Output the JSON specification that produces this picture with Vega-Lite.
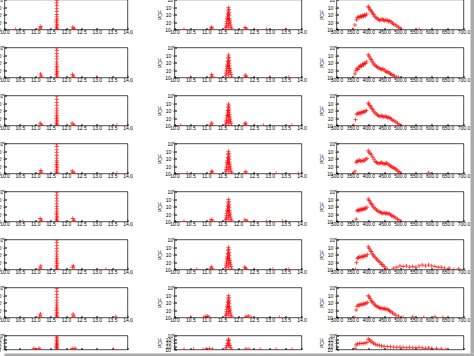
{
"$schema": "https://vega.github.io/schema/vega-lite/v6.json",
"padding": {"left": -13.5, "top": -3.5, "right": 0, "bottom": 0},
"background": "white",
"spacing": 0,
"config": {
  "font": "Liberation Sans",
  "view": {"stroke": "#000", "strokeWidth": 0.7},
  "axis": {"labelFontSize": 5, "labelColor": "#000", "tickColor": "#000", "tickSize": -2, "domain": false, "grid": false, "labelPadding": 2, "titleFontSize": 5, "titleFontWeight": "normal", "titleColor": "#000", "titlePadding": 2, "labelOverlap": false, "labelFlush": false},
  "axisY": {"minExtent": 0},
  "point": {"shape": "M-1,0H1M0,-1V1", "size": 18, "strokeWidth": 0.8, "color": "#ff0000", "filled": false, "opacity": 0.85}
},
"datasets": {
"a": [
{"r":1,"x":11.7,"y":0.8},{"r":1,"x":11.7,"y":0.35},{"r":1,"x":11.7,"y":0.15},{"r":1,"x":11.7,"y":0.06},{"r":1,"x":11.7,"y":0.025},{"r":1,"x":11.7,"y":0.01},{"r":1,"x":11.7,"y":0.005},{"r":1,"x":11.7,"y":0.0025},{"r":1,"x":11.7,"y":0.0015},{"r":1,"x":11.69,"y":0.0009},{"r":1,"x":11.71,"y":0.0005},{"r":1,"x":11.7,"y":0.0003},{"r":1,"x":11.69,"y":0.0002},{"r":1,"x":11.71,"y":0.00013},{"r":1,"x":11.7,"y":0.0001},{"r":1,"x":11.15,"y":0.00015},{"r":1,"x":11.18,"y":0.00025},{"r":1,"x":11.2,"y":0.0001},{"r":1,"x":12.22,"y":0.0002},{"r":1,"x":12.25,"y":0.00013},{"r":1,"x":12.28,"y":0.0001},{"r":1,"x":10.35,"y":0.0001},
{"r":2,"x":11.7,"y":0.9},{"r":2,"x":11.7,"y":0.4},{"r":2,"x":11.7,"y":0.16},{"r":2,"x":11.7,"y":0.07},{"r":2,"x":11.7,"y":0.03},{"r":2,"x":11.7,"y":0.012},{"r":2,"x":11.7,"y":0.006},{"r":2,"x":11.7,"y":0.003},{"r":2,"x":11.7,"y":0.0018},{"r":2,"x":11.69,"y":0.001},{"r":2,"x":11.71,"y":0.0006},{"r":2,"x":11.7,"y":0.0004},{"r":2,"x":11.69,"y":0.00025},{"r":2,"x":11.71,"y":0.00015},{"r":2,"x":11.7,"y":0.0001},{"r":2,"x":11.17,"y":0.0003},{"r":2,"x":11.19,"y":0.00015},{"r":2,"x":11.21,"y":0.0001},{"r":2,"x":12.21,"y":0.00025},{"r":2,"x":12.24,"y":0.00015},{"r":2,"x":12.26,"y":0.0001},{"r":2,"x":13.0,"y":0.0001},
{"r":3,"x":11.7,"y":0.85},{"r":3,"x":11.7,"y":0.3},{"r":3,"x":11.7,"y":0.12},{"r":3,"x":11.7,"y":0.05},{"r":3,"x":11.7,"y":0.02},{"r":3,"x":11.7,"y":0.009},{"r":3,"x":11.7,"y":0.0045},{"r":3,"x":11.7,"y":0.0022},{"r":3,"x":11.7,"y":0.0013},{"r":3,"x":11.69,"y":0.0008},{"r":3,"x":11.71,"y":0.0005},{"r":3,"x":11.7,"y":0.0003},{"r":3,"x":11.69,"y":0.0002},{"r":3,"x":11.71,"y":0.00013},{"r":3,"x":11.7,"y":0.0001},{"r":3,"x":11.16,"y":0.0002},{"r":3,"x":11.19,"y":0.00012},{"r":3,"x":11.22,"y":0.0001},{"r":3,"x":12.2,"y":0.0002},{"r":3,"x":12.24,"y":0.00012},{"r":3,"x":12.27,"y":0.0001},{"r":3,"x":13.65,"y":0.0001},
{"r":4,"x":11.7,"y":0.9},{"r":4,"x":11.7,"y":0.4},{"r":4,"x":11.7,"y":0.14},{"r":4,"x":11.7,"y":0.06},{"r":4,"x":11.7,"y":0.025},{"r":4,"x":11.7,"y":0.011},{"r":4,"x":11.7,"y":0.005},{"r":4,"x":11.7,"y":0.0028},{"r":4,"x":11.7,"y":0.0016},{"r":4,"x":11.69,"y":0.001},{"r":4,"x":11.71,"y":0.0006},{"r":4,"x":11.7,"y":0.00035},{"r":4,"x":11.69,"y":0.0002},{"r":4,"x":11.71,"y":0.00014},{"r":4,"x":11.7,"y":0.0001},{"r":4,"x":11.15,"y":0.0001},{"r":4,"x":11.18,"y":0.00025},{"r":4,"x":11.2,"y":0.00015},{"r":4,"x":12.2,"y":0.00022},{"r":4,"x":12.23,"y":0.00014},{"r":4,"x":12.27,"y":0.0001},{"r":4,"x":13.65,"y":0.0001},
{"r":5,"x":11.7,"y":0.8},{"r":5,"x":11.7,"y":0.33},{"r":5,"x":11.7,"y":0.13},{"r":5,"x":11.7,"y":0.055},{"r":5,"x":11.7,"y":0.022},{"r":5,"x":11.7,"y":0.01},{"r":5,"x":11.7,"y":0.005},{"r":5,"x":11.7,"y":0.0025},{"r":5,"x":11.7,"y":0.0014},{"r":5,"x":11.69,"y":0.0009},{"r":5,"x":11.71,"y":0.0005},{"r":5,"x":11.7,"y":0.0003},{"r":5,"x":11.69,"y":0.0002},{"r":5,"x":11.71,"y":0.00013},{"r":5,"x":11.7,"y":0.0001},{"r":5,"x":11.16,"y":0.00025},{"r":5,"x":11.19,"y":0.00015},{"r":5,"x":11.21,"y":0.0001},{"r":5,"x":12.22,"y":0.00025},{"r":5,"x":12.25,"y":0.00015},{"r":5,"x":12.28,"y":0.0001},{"r":5,"x":10.6,"y":0.0001},
{"r":6,"x":11.7,"y":0.85},{"r":6,"x":11.7,"y":0.38},{"r":6,"x":11.7,"y":0.15},{"r":6,"x":11.7,"y":0.065},{"r":6,"x":11.7,"y":0.028},{"r":6,"x":11.7,"y":0.012},{"r":6,"x":11.7,"y":0.006},{"r":6,"x":11.7,"y":0.003},{"r":6,"x":11.7,"y":0.0017},{"r":6,"x":11.69,"y":0.001},{"r":6,"x":11.71,"y":0.0006},{"r":6,"x":11.7,"y":0.00035},{"r":6,"x":11.69,"y":0.00022},{"r":6,"x":11.71,"y":0.00014},{"r":6,"x":11.7,"y":0.0001},{"r":6,"x":11.15,"y":0.00015},{"r":6,"x":11.18,"y":0.0003},{"r":6,"x":11.2,"y":0.0001},{"r":6,"x":12.21,"y":0.0002},{"r":6,"x":12.24,"y":0.0003},{"r":6,"x":12.27,"y":0.0001},{"r":6,"x":13.3,"y":0.0001},
{"r":7,"x":11.7,"y":0.75},{"r":7,"x":11.7,"y":0.3},{"r":7,"x":11.7,"y":0.12},{"r":7,"x":11.7,"y":0.05},{"r":7,"x":11.7,"y":0.02},{"r":7,"x":11.7,"y":0.009},{"r":7,"x":11.7,"y":0.0045},{"r":7,"x":11.7,"y":0.0024},{"r":7,"x":11.7,"y":0.0014},{"r":7,"x":11.69,"y":0.0009},{"r":7,"x":11.71,"y":0.0005},{"r":7,"x":11.7,"y":0.0003},{"r":7,"x":11.69,"y":0.0002},{"r":7,"x":11.71,"y":0.00013},{"r":7,"x":11.7,"y":0.0001},{"r":7,"x":11.14,"y":0.00015},{"r":7,"x":11.17,"y":0.0003},{"r":7,"x":11.2,"y":0.0001},{"r":7,"x":12.2,"y":0.0001},{"r":7,"x":12.23,"y":0.00028},{"r":7,"x":12.26,"y":0.00015},{"r":7,"x":13.62,"y":0.00012},
{"r":8,"x":11.7,"y":0.8},{"r":8,"x":11.7,"y":0.3},{"r":8,"x":11.7,"y":0.1},{"r":8,"x":11.7,"y":0.04},{"r":8,"x":11.7,"y":0.015},{"r":8,"x":11.7,"y":0.006},{"r":8,"x":11.7,"y":0.003},{"r":8,"x":11.7,"y":0.0015},{"r":8,"x":11.7,"y":0.0008},{"r":8,"x":11.69,"y":0.0004},{"r":8,"x":11.71,"y":0.0002},{"r":8,"x":11.7,"y":0.0001},{"r":8,"x":10.95,"y":0.0002},{"r":8,"x":11.0,"y":0.0001},{"r":8,"x":11.12,"y":0.0002},{"r":8,"x":11.15,"y":0.0001},{"r":8,"x":12.2,"y":0.0002},{"r":8,"x":12.25,"y":0.0001},{"r":8,"x":12.3,"y":0.0002},{"r":8,"x":13.55,"y":0.0001}
],
"b": [
{"r":1,"x":11.6,"y":0.0001},{"r":1,"x":11.62,"y":0.00018},{"r":1,"x":11.63,"y":0.0003},{"r":1,"x":11.64,"y":0.0006},{"r":1,"x":11.65,"y":0.0012},{"r":1,"x":11.66,"y":0.0025},{"r":1,"x":11.67,"y":0.005},{"r":1,"x":11.68,"y":0.012},{"r":1,"x":11.69,"y":0.03},{"r":1,"x":11.7,"y":0.08},{"r":1,"x":11.71,"y":0.045},{"r":1,"x":11.72,"y":0.018},{"r":1,"x":11.72,"y":0.007},{"r":1,"x":11.73,"y":0.003},{"r":1,"x":11.74,"y":0.0015},{"r":1,"x":11.75,"y":0.0008},{"r":1,"x":11.76,"y":0.0004},{"r":1,"x":11.78,"y":0.0002},{"r":1,"x":11.8,"y":0.00012},{"r":1,"x":11.68,"y":0.003},{"r":1,"x":11.7,"y":0.01},{"r":1,"x":11.7,"y":0.002},{"r":1,"x":11.71,"y":0.0006},{"r":1,"x":11.69,"y":0.0003},{"r":1,"x":11.7,"y":0.0001},{"r":1,"x":11.13,"y":0.0001},{"r":1,"x":11.16,"y":0.0002},{"r":1,"x":11.18,"y":0.00015},{"r":1,"x":12.22,"y":0.00018},{"r":1,"x":12.25,"y":0.00012},{"r":1,"x":12.28,"y":0.0001},{"r":1,"x":10.3,"y":0.0001},{"r":1,"x":12.9,"y":0.0001},{"r":1,"x":13.5,"y":0.0001},
{"r":2,"x":11.61,"y":0.0001},{"r":2,"x":11.62,"y":0.0002},{"r":2,"x":11.63,"y":0.0004},{"r":2,"x":11.64,"y":0.0008},{"r":2,"x":11.65,"y":0.0015},{"r":2,"x":11.66,"y":0.003},{"r":2,"x":11.67,"y":0.006},{"r":2,"x":11.68,"y":0.015},{"r":2,"x":11.69,"y":0.04},{"r":2,"x":11.7,"y":0.1},{"r":2,"x":11.71,"y":0.05},{"r":2,"x":11.72,"y":0.02},{"r":2,"x":11.72,"y":0.008},{"r":2,"x":11.73,"y":0.0035},{"r":2,"x":11.74,"y":0.0016},{"r":2,"x":11.75,"y":0.0009},{"r":2,"x":11.76,"y":0.0005},{"r":2,"x":11.78,"y":0.00025},{"r":2,"x":11.8,"y":0.00012},{"r":2,"x":11.68,"y":0.004},{"r":2,"x":11.7,"y":0.012},{"r":2,"x":11.7,"y":0.0025},{"r":2,"x":11.71,"y":0.0007},{"r":2,"x":11.69,"y":0.0003},{"r":2,"x":11.7,"y":0.0001},{"r":2,"x":11.15,"y":0.0001},{"r":2,"x":11.17,"y":0.00025},{"r":2,"x":11.19,"y":0.00014},{"r":2,"x":12.23,"y":0.0002},{"r":2,"x":12.25,"y":0.00013},{"r":2,"x":12.27,"y":0.0001},{"r":2,"x":10.5,"y":0.0001},{"r":2,"x":13.0,"y":0.0001},{"r":2,"x":13.6,"y":0.0001},
{"r":3,"x":11.6,"y":0.0001},{"r":3,"x":11.62,"y":0.00016},{"r":3,"x":11.63,"y":0.0003},{"r":3,"x":11.64,"y":0.0005},{"r":3,"x":11.65,"y":0.001},{"r":3,"x":11.66,"y":0.002},{"r":3,"x":11.67,"y":0.0045},{"r":3,"x":11.68,"y":0.01},{"r":3,"x":11.69,"y":0.028},{"r":3,"x":11.7,"y":0.07},{"r":3,"x":11.71,"y":0.04},{"r":3,"x":11.72,"y":0.016},{"r":3,"x":11.72,"y":0.006},{"r":3,"x":11.73,"y":0.0028},{"r":3,"x":11.74,"y":0.0013},{"r":3,"x":11.75,"y":0.0007},{"r":3,"x":11.76,"y":0.00035},{"r":3,"x":11.78,"y":0.0002},{"r":3,"x":11.8,"y":0.0001},{"r":3,"x":11.68,"y":0.0025},{"r":3,"x":11.7,"y":0.009},{"r":3,"x":11.7,"y":0.0018},{"r":3,"x":11.71,"y":0.0005},{"r":3,"x":11.69,"y":0.00025},{"r":3,"x":11.7,"y":0.0001},{"r":3,"x":11.14,"y":0.00012},{"r":3,"x":11.17,"y":0.00022},{"r":3,"x":11.2,"y":0.0001},{"r":3,"x":12.21,"y":0.00015},{"r":3,"x":12.24,"y":0.0002},{"r":3,"x":12.27,"y":0.0001},{"r":3,"x":10.2,"y":0.0001},{"r":3,"x":12.8,"y":0.0001},{"r":3,"x":13.7,"y":0.0001},
{"r":4,"x":11.6,"y":0.0001},{"r":4,"x":11.62,"y":0.0002},{"r":4,"x":11.63,"y":0.00035},{"r":4,"x":11.64,"y":0.0007},{"r":4,"x":11.65,"y":0.0014},{"r":4,"x":11.66,"y":0.0028},{"r":4,"x":11.67,"y":0.0055},{"r":4,"x":11.68,"y":0.013},{"r":4,"x":11.69,"y":0.035},{"r":4,"x":11.7,"y":0.09},{"r":4,"x":11.71,"y":0.05},{"r":4,"x":11.72,"y":0.02},{"r":4,"x":11.72,"y":0.0075},{"r":4,"x":11.73,"y":0.0032},{"r":4,"x":11.74,"y":0.0015},{"r":4,"x":11.75,"y":0.0008},{"r":4,"x":11.76,"y":0.0004},{"r":4,"x":11.78,"y":0.0002},{"r":4,"x":11.8,"y":0.00012},{"r":4,"x":11.68,"y":0.0035},{"r":4,"x":11.7,"y":0.011},{"r":4,"x":11.7,"y":0.0022},{"r":4,"x":11.71,"y":0.0006},{"r":4,"x":11.69,"y":0.0003},{"r":4,"x":11.7,"y":0.0001},{"r":4,"x":11.15,"y":0.0001},{"r":4,"x":11.17,"y":0.0002},{"r":4,"x":11.19,"y":0.00015},{"r":4,"x":12.2,"y":0.0001},{"r":4,"x":12.24,"y":0.00017},{"r":4,"x":12.28,"y":0.0001},{"r":4,"x":10.4,"y":0.0001},{"r":4,"x":13.2,"y":0.0001},{"r":4,"x":13.9,"y":0.0001},
{"r":5,"x":11.6,"y":0.0001},{"r":5,"x":11.62,"y":0.00018},{"r":5,"x":11.63,"y":0.0003},{"r":5,"x":11.64,"y":0.0006},{"r":5,"x":11.65,"y":0.0012},{"r":5,"x":11.66,"y":0.0025},{"r":5,"x":11.67,"y":0.005},{"r":5,"x":11.68,"y":0.012},{"r":5,"x":11.69,"y":0.03},{"r":5,"x":11.7,"y":0.085},{"r":5,"x":11.71,"y":0.045},{"r":5,"x":11.72,"y":0.017},{"r":5,"x":11.72,"y":0.007},{"r":5,"x":11.73,"y":0.003},{"r":5,"x":11.74,"y":0.0014},{"r":5,"x":11.75,"y":0.0008},{"r":5,"x":11.76,"y":0.0004},{"r":5,"x":11.78,"y":0.0002},{"r":5,"x":11.8,"y":0.00012},{"r":5,"x":11.68,"y":0.003},{"r":5,"x":11.7,"y":0.01},{"r":5,"x":11.7,"y":0.002},{"r":5,"x":11.71,"y":0.0006},{"r":5,"x":11.69,"y":0.0003},{"r":5,"x":11.7,"y":0.0001},{"r":5,"x":11.12,"y":0.0001},{"r":5,"x":11.16,"y":0.00018},{"r":5,"x":11.2,"y":0.00012},{"r":5,"x":12.22,"y":0.00016},{"r":5,"x":12.26,"y":0.00011},{"r":5,"x":12.3,"y":0.0001},{"r":5,"x":10.3,"y":0.0001},{"r":5,"x":12.9,"y":0.0001},{"r":5,"x":13.4,"y":0.0001},
{"r":6,"x":11.6,"y":0.0001},{"r":6,"x":11.62,"y":0.0002},{"r":6,"x":11.63,"y":0.0004},{"r":6,"x":11.64,"y":0.0007},{"r":6,"x":11.65,"y":0.0013},{"r":6,"x":11.66,"y":0.0027},{"r":6,"x":11.67,"y":0.0055},{"r":6,"x":11.68,"y":0.014},{"r":6,"x":11.69,"y":0.035},{"r":6,"x":11.7,"y":0.09},{"r":6,"x":11.71,"y":0.05},{"r":6,"x":11.72,"y":0.019},{"r":6,"x":11.72,"y":0.0075},{"r":6,"x":11.73,"y":0.0033},{"r":6,"x":11.74,"y":0.0016},{"r":6,"x":11.75,"y":0.0009},{"r":6,"x":11.76,"y":0.0005},{"r":6,"x":11.78,"y":0.00025},{"r":6,"x":11.8,"y":0.00012},{"r":6,"x":11.68,"y":0.0035},{"r":6,"x":11.7,"y":0.011},{"r":6,"x":11.7,"y":0.0022},{"r":6,"x":11.71,"y":0.0007},{"r":6,"x":11.69,"y":0.0003},{"r":6,"x":11.7,"y":0.0001},{"r":6,"x":11.13,"y":0.00012},{"r":6,"x":11.16,"y":0.00022},{"r":6,"x":11.19,"y":0.00013},{"r":6,"x":12.21,"y":0.0002},{"r":6,"x":12.24,"y":0.00014},{"r":6,"x":12.27,"y":0.0001},{"r":6,"x":10.7,"y":0.0001},{"r":6,"x":13.1,"y":0.0001},{"r":6,"x":13.6,"y":0.0001},
{"r":7,"x":11.6,"y":0.0001},{"r":7,"x":11.62,"y":0.00018},{"r":7,"x":11.63,"y":0.0003},{"r":7,"x":11.64,"y":0.0006},{"r":7,"x":11.65,"y":0.0012},{"r":7,"x":11.66,"y":0.0025},{"r":7,"x":11.67,"y":0.005},{"r":7,"x":11.68,"y":0.012},{"r":7,"x":11.69,"y":0.03},{"r":7,"x":11.7,"y":0.08},{"r":7,"x":11.71,"y":0.045},{"r":7,"x":11.72,"y":0.017},{"r":7,"x":11.72,"y":0.007},{"r":7,"x":11.73,"y":0.003},{"r":7,"x":11.74,"y":0.0014},{"r":7,"x":11.75,"y":0.0008},{"r":7,"x":11.76,"y":0.0004},{"r":7,"x":11.78,"y":0.0002},{"r":7,"x":11.8,"y":0.00012},{"r":7,"x":11.68,"y":0.003},{"r":7,"x":11.7,"y":0.01},{"r":7,"x":11.7,"y":0.002},{"r":7,"x":11.71,"y":0.0006},{"r":7,"x":11.69,"y":0.0003},{"r":7,"x":11.7,"y":0.0001},{"r":7,"x":10.92,"y":0.0001},{"r":7,"x":10.97,"y":0.00013},{"r":7,"x":11.03,"y":0.00015},{"r":7,"x":11.08,"y":0.00012},{"r":7,"x":12.22,"y":0.0001},{"r":7,"x":12.28,"y":0.00014},{"r":7,"x":12.34,"y":0.00016},{"r":7,"x":12.42,"y":0.0001},{"r":7,"x":10.5,"y":0.0001},{"r":7,"x":13.3,"y":0.0001},
{"r":8,"x":11.6,"y":0.0001},{"r":8,"x":11.63,"y":0.0003},{"r":8,"x":11.65,"y":0.0012},{"r":8,"x":11.67,"y":0.005},{"r":8,"x":11.69,"y":0.03},{"r":8,"x":11.7,"y":0.09},{"r":8,"x":11.71,"y":0.04},{"r":8,"x":11.72,"y":0.007},{"r":8,"x":11.74,"y":0.0015},{"r":8,"x":11.76,"y":0.0004},{"r":8,"x":11.8,"y":0.00012},{"r":8,"x":11.7,"y":0.002},{"r":8,"x":10.9,"y":0.0001},{"r":8,"x":11.0,"y":0.00015},{"r":8,"x":11.1,"y":0.00018},{"r":8,"x":11.2,"y":0.00012},{"r":8,"x":12.25,"y":0.00015},{"r":8,"x":12.35,"y":0.00012},{"r":8,"x":10.3,"y":0.0001},{"r":8,"x":10.6,"y":0.0001},{"r":8,"x":12.7,"y":0.0001},{"r":8,"x":13.2,"y":0.0001},{"r":8,"x":13.7,"y":0.0001}
],
"c": [
{"r":1,"x":352,"y":0.0001},{"r":1,"x":358,"y":0.0004},{"r":1,"x":363,"y":0.002},{"r":1,"x":366,"y":0.004},{"r":1,"x":370,"y":0.005},{"r":1,"x":373,"y":0.004},{"r":1,"x":376,"y":0.006},{"r":1,"x":379,"y":0.005},{"r":1,"x":382,"y":0.007},{"r":1,"x":385,"y":0.006},{"r":1,"x":388,"y":0.009},{"r":1,"x":391,"y":0.007},{"r":1,"x":395,"y":0.011},{"r":1,"x":400,"y":0.12},{"r":1,"x":402,"y":0.08},{"r":1,"x":405,"y":0.05},{"r":1,"x":408,"y":0.035},{"r":1,"x":411,"y":0.022},{"r":1,"x":414,"y":0.015},{"r":1,"x":417,"y":0.01},{"r":1,"x":420,"y":0.006},{"r":1,"x":424,"y":0.004},{"r":1,"x":428,"y":0.003},{"r":1,"x":432,"y":0.0022},{"r":1,"x":436,"y":0.0016},{"r":1,"x":440,"y":0.002},{"r":1,"x":444,"y":0.0025},{"r":1,"x":448,"y":0.0018},{"r":1,"x":452,"y":0.0014},{"r":1,"x":456,"y":0.002},{"r":1,"x":460,"y":0.0016},{"r":1,"x":464,"y":0.0012},{"r":1,"x":468,"y":0.0015},{"r":1,"x":472,"y":0.001},{"r":1,"x":476,"y":0.0007},{"r":1,"x":480,"y":0.0005},{"r":1,"x":485,"y":0.0004},{"r":1,"x":490,"y":0.0003},{"r":1,"x":495,"y":0.0002},{"r":1,"x":500,"y":0.00015},{"r":1,"x":505,"y":0.0001},{"r":1,"x":560,"y":0.0001},
{"r":2,"x":358,"y":0.0003},{"r":2,"x":361,"y":0.0008},{"r":2,"x":364,"y":0.0015},{"r":2,"x":367,"y":0.0012},{"r":2,"x":370,"y":0.002},{"r":2,"x":373,"y":0.003},{"r":2,"x":376,"y":0.004},{"r":2,"x":379,"y":0.003},{"r":2,"x":382,"y":0.006},{"r":2,"x":385,"y":0.005},{"r":2,"x":388,"y":0.008},{"r":2,"x":391,"y":0.007},{"r":2,"x":395,"y":0.012},{"r":2,"x":400,"y":0.11},{"r":2,"x":403,"y":0.07},{"r":2,"x":406,"y":0.04},{"r":2,"x":409,"y":0.025},{"r":2,"x":412,"y":0.015},{"r":2,"x":415,"y":0.009},{"r":2,"x":418,"y":0.006},{"r":2,"x":422,"y":0.004},{"r":2,"x":426,"y":0.003},{"r":2,"x":430,"y":0.0022},{"r":2,"x":434,"y":0.0018},{"r":2,"x":438,"y":0.0014},{"r":2,"x":442,"y":0.0012},{"r":2,"x":446,"y":0.0015},{"r":2,"x":450,"y":0.001},{"r":2,"x":454,"y":0.0007},{"r":2,"x":458,"y":0.0005},{"r":2,"x":462,"y":0.0006},{"r":2,"x":466,"y":0.0004},{"r":2,"x":470,"y":0.0003},{"r":2,"x":474,"y":0.00025},{"r":2,"x":478,"y":0.0002},{"r":2,"x":482,"y":0.00015},{"r":2,"x":488,"y":0.00012},{"r":2,"x":495,"y":0.0001},
{"r":3,"x":355,"y":0.0001},{"r":3,"x":360,"y":0.0006},{"r":3,"x":364,"y":0.003},{"r":3,"x":367,"y":0.004},{"r":3,"x":371,"y":0.005},{"r":3,"x":374,"y":0.0035},{"r":3,"x":377,"y":0.006},{"r":3,"x":380,"y":0.005},{"r":3,"x":384,"y":0.007},{"r":3,"x":387,"y":0.006},{"r":3,"x":390,"y":0.008},{"r":3,"x":394,"y":0.01},{"r":3,"x":400,"y":0.1},{"r":3,"x":402,"y":0.07},{"r":3,"x":405,"y":0.045},{"r":3,"x":408,"y":0.03},{"r":3,"x":411,"y":0.02},{"r":3,"x":414,"y":0.013},{"r":3,"x":417,"y":0.008},{"r":3,"x":421,"y":0.005},{"r":3,"x":425,"y":0.0035},{"r":3,"x":429,"y":0.0025},{"r":3,"x":433,"y":0.002},{"r":3,"x":437,"y":0.0016},{"r":3,"x":441,"y":0.002},{"r":3,"x":445,"y":0.0017},{"r":3,"x":449,"y":0.0013},{"r":3,"x":453,"y":0.0018},{"r":3,"x":457,"y":0.0014},{"r":3,"x":461,"y":0.0011},{"r":3,"x":465,"y":0.0013},{"r":3,"x":469,"y":0.0009},{"r":3,"x":473,"y":0.0007},{"r":3,"x":477,"y":0.0005},{"r":3,"x":482,"y":0.0004},{"r":3,"x":487,"y":0.0003},{"r":3,"x":492,"y":0.0002},{"r":3,"x":497,"y":0.00014},{"r":3,"x":502,"y":0.0001},
{"r":4,"x":355,"y":0.0001},{"r":4,"x":358,"y":0.0002},{"r":4,"x":362,"y":0.003},{"r":4,"x":365,"y":0.005},{"r":4,"x":368,"y":0.004},{"r":4,"x":372,"y":0.006},{"r":4,"x":376,"y":0.005},{"r":4,"x":380,"y":0.004},{"r":4,"x":384,"y":0.006},{"r":4,"x":388,"y":0.005},{"r":4,"x":392,"y":0.008},{"r":4,"x":396,"y":0.01},{"r":4,"x":400,"y":0.11},{"r":4,"x":403,"y":0.07},{"r":4,"x":406,"y":0.045},{"r":4,"x":410,"y":0.03},{"r":4,"x":414,"y":0.015},{"r":4,"x":418,"y":0.008},{"r":4,"x":422,"y":0.004},{"r":4,"x":426,"y":0.003},{"r":4,"x":430,"y":0.0025},{"r":4,"x":434,"y":0.002},{"r":4,"x":438,"y":0.0025},{"r":4,"x":442,"y":0.003},{"r":4,"x":446,"y":0.0022},{"r":4,"x":450,"y":0.0018},{"r":4,"x":454,"y":0.002},{"r":4,"x":458,"y":0.0025},{"r":4,"x":462,"y":0.0018},{"r":4,"x":466,"y":0.0013},{"r":4,"x":470,"y":0.001},{"r":4,"x":474,"y":0.0008},{"r":4,"x":478,"y":0.0006},{"r":4,"x":482,"y":0.0005},{"r":4,"x":486,"y":0.0004},{"r":4,"x":490,"y":0.0003},{"r":4,"x":494,"y":0.0002},{"r":4,"x":498,"y":0.00015},{"r":4,"x":502,"y":0.0001},{"r":4,"x":590,"y":0.00012},
{"r":5,"x":362,"y":0.0002},{"r":5,"x":365,"y":0.003},{"r":5,"x":368,"y":0.0025},{"r":5,"x":371,"y":0.004},{"r":5,"x":374,"y":0.003},{"r":5,"x":377,"y":0.0045},{"r":5,"x":380,"y":0.0035},{"r":5,"x":383,"y":0.005},{"r":5,"x":386,"y":0.004},{"r":5,"x":389,"y":0.006},{"r":5,"x":392,"y":0.005},{"r":5,"x":396,"y":0.008},{"r":5,"x":400,"y":0.1},{"r":5,"x":403,"y":0.065},{"r":5,"x":406,"y":0.04},{"r":5,"x":409,"y":0.025},{"r":5,"x":412,"y":0.017},{"r":5,"x":415,"y":0.011},{"r":5,"x":418,"y":0.007},{"r":5,"x":422,"y":0.005},{"r":5,"x":426,"y":0.0035},{"r":5,"x":430,"y":0.0025},{"r":5,"x":434,"y":0.002},{"r":5,"x":438,"y":0.0017},{"r":5,"x":442,"y":0.0014},{"r":5,"x":446,"y":0.0012},{"r":5,"x":450,"y":0.0015},{"r":5,"x":454,"y":0.0011},{"r":5,"x":458,"y":0.0013},{"r":5,"x":462,"y":0.001},{"r":5,"x":466,"y":0.0012},{"r":5,"x":470,"y":0.0008},{"r":5,"x":474,"y":0.0006},{"r":5,"x":478,"y":0.0005},{"r":5,"x":482,"y":0.0004},{"r":5,"x":487,"y":0.0003},{"r":5,"x":492,"y":0.0002},{"r":5,"x":497,"y":0.00015},{"r":5,"x":502,"y":0.0001},
{"r":6,"x":360,"y":0.0001},{"r":6,"x":363,"y":0.0008},{"r":6,"x":366,"y":0.003},{"r":6,"x":369,"y":0.004},{"r":6,"x":373,"y":0.005},{"r":6,"x":377,"y":0.004},{"r":6,"x":381,"y":0.006},{"r":6,"x":385,"y":0.005},{"r":6,"x":389,"y":0.007},{"r":6,"x":393,"y":0.006},{"r":6,"x":397,"y":0.01},{"r":6,"x":400,"y":0.11},{"r":6,"x":403,"y":0.07},{"r":6,"x":406,"y":0.04},{"r":6,"x":409,"y":0.025},{"r":6,"x":412,"y":0.015},{"r":6,"x":415,"y":0.009},{"r":6,"x":418,"y":0.006},{"r":6,"x":422,"y":0.004},{"r":6,"x":426,"y":0.0025},{"r":6,"x":430,"y":0.0018},{"r":6,"x":434,"y":0.0012},{"r":6,"x":438,"y":0.0008},{"r":6,"x":442,"y":0.0005},{"r":6,"x":446,"y":0.0004},{"r":6,"x":450,"y":0.00025},{"r":6,"x":455,"y":0.00015},{"r":6,"x":460,"y":0.0001},{"r":6,"x":480,"y":0.00015},{"r":6,"x":490,"y":0.0002},{"r":6,"x":500,"y":0.0003},{"r":6,"x":510,"y":0.00025},{"r":6,"x":520,"y":0.0003},{"r":6,"x":530,"y":0.0002},{"r":6,"x":540,"y":0.00025},{"r":6,"x":550,"y":0.0002},{"r":6,"x":560,"y":0.0003},{"r":6,"x":570,"y":0.0004},{"r":6,"x":580,"y":0.0003},{"r":6,"x":590,"y":0.0004},{"r":6,"x":600,"y":0.0003},{"r":6,"x":610,"y":0.00025},{"r":6,"x":620,"y":0.0002},{"r":6,"x":630,"y":0.0002},{"r":6,"x":640,"y":0.00015},{"r":6,"x":655,"y":0.00015},{"r":6,"x":670,"y":0.0001},{"r":6,"x":685,"y":0.00012},
{"r":7,"x":358,"y":0.0001},{"r":7,"x":362,"y":0.001},{"r":7,"x":365,"y":0.003},{"r":7,"x":369,"y":0.005},{"r":7,"x":373,"y":0.004},{"r":7,"x":377,"y":0.006},{"r":7,"x":381,"y":0.005},{"r":7,"x":385,"y":0.007},{"r":7,"x":389,"y":0.006},{"r":7,"x":393,"y":0.008},{"r":7,"x":397,"y":0.01},{"r":7,"x":400,"y":0.08},{"r":7,"x":403,"y":0.055},{"r":7,"x":406,"y":0.035},{"r":7,"x":409,"y":0.02},{"r":7,"x":412,"y":0.013},{"r":7,"x":415,"y":0.009},{"r":7,"x":419,"y":0.006},{"r":7,"x":423,"y":0.004},{"r":7,"x":427,"y":0.003},{"r":7,"x":431,"y":0.0025},{"r":7,"x":435,"y":0.002},{"r":7,"x":439,"y":0.0016},{"r":7,"x":443,"y":0.0018},{"r":7,"x":447,"y":0.0014},{"r":7,"x":451,"y":0.0016},{"r":7,"x":455,"y":0.0012},{"r":7,"x":459,"y":0.0014},{"r":7,"x":463,"y":0.001},{"r":7,"x":467,"y":0.0008},{"r":7,"x":471,"y":0.0006},{"r":7,"x":476,"y":0.0004},{"r":7,"x":481,"y":0.0003},{"r":7,"x":487,"y":0.0002},{"r":7,"x":495,"y":0.00015},{"r":7,"x":510,"y":0.0001},{"r":7,"x":540,"y":0.00012},{"r":7,"x":575,"y":0.0001},{"r":7,"x":610,"y":0.00012},{"r":7,"x":635,"y":0.0001},
{"r":8,"x":358,"y":0.0002},{"r":8,"x":362,"y":0.002},{"r":8,"x":366,"y":0.004},{"r":8,"x":372,"y":0.005},{"r":8,"x":378,"y":0.006},{"r":8,"x":384,"y":0.005},{"r":8,"x":390,"y":0.007},{"r":8,"x":396,"y":0.01},{"r":8,"x":400,"y":0.1},{"r":8,"x":404,"y":0.05},{"r":8,"x":408,"y":0.025},{"r":8,"x":412,"y":0.012},{"r":8,"x":417,"y":0.006},{"r":8,"x":422,"y":0.003},{"r":8,"x":428,"y":0.002},{"r":8,"x":435,"y":0.0015},{"r":8,"x":442,"y":0.001},{"r":8,"x":450,"y":0.0008},{"r":8,"x":460,"y":0.0007},{"r":8,"x":470,"y":0.0006},{"r":8,"x":480,"y":0.0005},{"r":8,"x":490,"y":0.0004},{"r":8,"x":500,"y":0.0005},{"r":8,"x":510,"y":0.0004},{"r":8,"x":520,"y":0.0003},{"r":8,"x":530,"y":0.0004},{"r":8,"x":540,"y":0.0003},{"r":8,"x":550,"y":0.0003},{"r":8,"x":560,"y":0.0004},{"r":8,"x":570,"y":0.0003},{"r":8,"x":580,"y":0.0002},{"r":8,"x":590,"y":0.0003},{"r":8,"x":600,"y":0.0002},{"r":8,"x":615,"y":0.0002},{"r":8,"x":630,"y":0.00015},{"r":8,"x":645,"y":0.0001}
]
},
"vconcat": [
{"hconcat": [
{"hconcat": [
{"vconcat": [
{"width":123,"height":30,"data":{"name":"a"},"transform":[{"filter":"datum.r==1"}],"resolve":{"scale":{"y":"independent"}},"layer":[{"mark":{"type":"point","clip":true},"encoding":{"x":{"field":"x","type":"quantitative","scale":{"domain":[10,14],"nice":false,"zero":false},"axis":{"values":[10,10.5,11,11.5,12,12.5,13,13.5,14],"format":".1f","title":null}},"y":{"field":"y","type":"quantitative","scale":{"type":"log","domain":[0.0001,1],"nice":false},"axis":{"title":"PDF","values":[1,0.1,0.01,0.001,0.0001],"labelExpr":"datum.value>0.5?'10⁰':datum.value>0.05?'10⁻¹':datum.value>0.005?'10⁻²':datum.value>0.0005?'10⁻³':'10⁻⁴'"}}}},{"mark":{"type":"point","opacity":0},"encoding":{"x":{"field":"x","type":"quantitative","scale":{"domain":[10,14],"nice":false,"zero":false},"axis":{"values":[10,10.5,11,11.5,12,12.5,13,13.5,14],"format":".1f","title":null}},"y":{"field":"y","type":"quantitative","scale":{"type":"log","domain":[0.0001,1],"nice":false},"axis":{"orient":"right","labels":false,"ticks":false,"domain":false,"title":null,"minExtent":17,"maxExtent":17}}}}]},
{"width":123,"height":30,"data":{"name":"a"},"transform":[{"filter":"datum.r==2"}],"resolve":{"scale":{"y":"independent"}},"layer":[{"mark":{"type":"point","clip":true},"encoding":{"x":{"field":"x","type":"quantitative","scale":{"domain":[10,14],"nice":false,"zero":false},"axis":{"values":[10,10.5,11,11.5,12,12.5,13,13.5,14],"format":".1f","title":null}},"y":{"field":"y","type":"quantitative","scale":{"type":"log","domain":[0.0001,1],"nice":false},"axis":{"title":"PDF","values":[1,0.1,0.01,0.001,0.0001],"labelExpr":"datum.value>0.5?'10⁰':datum.value>0.05?'10⁻¹':datum.value>0.005?'10⁻²':datum.value>0.0005?'10⁻³':'10⁻⁴'"}}}},{"mark":{"type":"point","opacity":0},"encoding":{"x":{"field":"x","type":"quantitative","scale":{"domain":[10,14],"nice":false,"zero":false},"axis":{"values":[10,10.5,11,11.5,12,12.5,13,13.5,14],"format":".1f","title":null}},"y":{"field":"y","type":"quantitative","scale":{"type":"log","domain":[0.0001,1],"nice":false},"axis":{"orient":"right","labels":false,"ticks":false,"domain":false,"title":null,"minExtent":17,"maxExtent":17}}}}]},
{"width":123,"height":30,"data":{"name":"a"},"transform":[{"filter":"datum.r==3"}],"resolve":{"scale":{"y":"independent"}},"layer":[{"mark":{"type":"point","clip":true},"encoding":{"x":{"field":"x","type":"quantitative","scale":{"domain":[10,14],"nice":false,"zero":false},"axis":{"values":[10,10.5,11,11.5,12,12.5,13,13.5,14],"format":".1f","title":null}},"y":{"field":"y","type":"quantitative","scale":{"type":"log","domain":[0.0001,1],"nice":false},"axis":{"title":"PDF","values":[1,0.1,0.01,0.001,0.0001],"labelExpr":"datum.value>0.5?'10⁰':datum.value>0.05?'10⁻¹':datum.value>0.005?'10⁻²':datum.value>0.0005?'10⁻³':'10⁻⁴'"}}}},{"mark":{"type":"point","opacity":0},"encoding":{"x":{"field":"x","type":"quantitative","scale":{"domain":[10,14],"nice":false,"zero":false},"axis":{"values":[10,10.5,11,11.5,12,12.5,13,13.5,14],"format":".1f","title":null}},"y":{"field":"y","type":"quantitative","scale":{"type":"log","domain":[0.0001,1],"nice":false},"axis":{"orient":"right","labels":false,"ticks":false,"domain":false,"title":null,"minExtent":17,"maxExtent":17}}}}]},
{"width":123,"height":30,"data":{"name":"a"},"transform":[{"filter":"datum.r==4"}],"resolve":{"scale":{"y":"independent"}},"layer":[{"mark":{"type":"point","clip":true},"encoding":{"x":{"field":"x","type":"quantitative","scale":{"domain":[10,14],"nice":false,"zero":false},"axis":{"values":[10,10.5,11,11.5,12,12.5,13,13.5,14],"format":".1f","title":null}},"y":{"field":"y","type":"quantitative","scale":{"type":"log","domain":[0.0001,1],"nice":false},"axis":{"title":"PDF","values":[1,0.1,0.01,0.001,0.0001],"labelExpr":"datum.value>0.5?'10⁰':datum.value>0.05?'10⁻¹':datum.value>0.005?'10⁻²':datum.value>0.0005?'10⁻³':'10⁻⁴'"}}}},{"mark":{"type":"point","opacity":0},"encoding":{"x":{"field":"x","type":"quantitative","scale":{"domain":[10,14],"nice":false,"zero":false},"axis":{"values":[10,10.5,11,11.5,12,12.5,13,13.5,14],"format":".1f","title":null}},"y":{"field":"y","type":"quantitative","scale":{"type":"log","domain":[0.0001,1],"nice":false},"axis":{"orient":"right","labels":false,"ticks":false,"domain":false,"title":null,"minExtent":17,"maxExtent":17}}}}]},
{"width":123,"height":30,"data":{"name":"a"},"transform":[{"filter":"datum.r==5"}],"resolve":{"scale":{"y":"independent"}},"layer":[{"mark":{"type":"point","clip":true},"encoding":{"x":{"field":"x","type":"quantitative","scale":{"domain":[10,14],"nice":false,"zero":false},"axis":{"values":[10,10.5,11,11.5,12,12.5,13,13.5,14],"format":".1f","title":null}},"y":{"field":"y","type":"quantitative","scale":{"type":"log","domain":[0.0001,1],"nice":false},"axis":{"title":"PDF","values":[1,0.1,0.01,0.001,0.0001],"labelExpr":"datum.value>0.5?'10⁰':datum.value>0.05?'10⁻¹':datum.value>0.005?'10⁻²':datum.value>0.0005?'10⁻³':'10⁻⁴'"}}}},{"mark":{"type":"point","opacity":0},"encoding":{"x":{"field":"x","type":"quantitative","scale":{"domain":[10,14],"nice":false,"zero":false},"axis":{"values":[10,10.5,11,11.5,12,12.5,13,13.5,14],"format":".1f","title":null}},"y":{"field":"y","type":"quantitative","scale":{"type":"log","domain":[0.0001,1],"nice":false},"axis":{"orient":"right","labels":false,"ticks":false,"domain":false,"title":null,"minExtent":17,"maxExtent":17}}}}]},
{"width":123,"height":30,"data":{"name":"a"},"transform":[{"filter":"datum.r==6"}],"resolve":{"scale":{"y":"independent"}},"layer":[{"mark":{"type":"point","clip":true},"encoding":{"x":{"field":"x","type":"quantitative","scale":{"domain":[10,14],"nice":false,"zero":false},"axis":{"values":[10,10.5,11,11.5,12,12.5,13,13.5,14],"format":".1f","title":null}},"y":{"field":"y","type":"quantitative","scale":{"type":"log","domain":[0.0001,1],"nice":false},"axis":{"title":"PDF","values":[1,0.1,0.01,0.001,0.0001],"labelExpr":"datum.value>0.5?'10⁰':datum.value>0.05?'10⁻¹':datum.value>0.005?'10⁻²':datum.value>0.0005?'10⁻³':'10⁻⁴'"}}}},{"mark":{"type":"point","opacity":0},"encoding":{"x":{"field":"x","type":"quantitative","scale":{"domain":[10,14],"nice":false,"zero":false},"axis":{"values":[10,10.5,11,11.5,12,12.5,13,13.5,14],"format":".1f","title":null}},"y":{"field":"y","type":"quantitative","scale":{"type":"log","domain":[0.0001,1],"nice":false},"axis":{"orient":"right","labels":false,"ticks":false,"domain":false,"title":null,"minExtent":17,"maxExtent":17}}}}]},
{"width":123,"height":30,"data":{"name":"a"},"transform":[{"filter":"datum.r==7"}],"resolve":{"scale":{"y":"independent"}},"layer":[{"mark":{"type":"point","clip":true},"encoding":{"x":{"field":"x","type":"quantitative","scale":{"domain":[10,14],"nice":false,"zero":false},"axis":{"values":[10,10.5,11,11.5,12,12.5,13,13.5,14],"format":".1f","title":null}},"y":{"field":"y","type":"quantitative","scale":{"type":"log","domain":[0.0001,1],"nice":false},"axis":{"title":"PDF","values":[1,0.1,0.01,0.001,0.0001],"labelExpr":"datum.value>0.5?'10⁰':datum.value>0.05?'10⁻¹':datum.value>0.005?'10⁻²':datum.value>0.0005?'10⁻³':'10⁻⁴'"}}}},{"mark":{"type":"point","opacity":0},"encoding":{"x":{"field":"x","type":"quantitative","scale":{"domain":[10,14],"nice":false,"zero":false},"axis":{"values":[10,10.5,11,11.5,12,12.5,13,13.5,14],"format":".1f","title":null}},"y":{"field":"y","type":"quantitative","scale":{"type":"log","domain":[0.0001,1],"nice":false},"axis":{"orient":"right","labels":false,"ticks":false,"domain":false,"title":null,"minExtent":17,"maxExtent":17}}}}]},
{"width":123,"height":14,"data":{"name":"a"},"transform":[{"filter":"datum.r==8"}],"resolve":{"scale":{"y":"independent"}},"layer":[{"mark":{"type":"point","clip":true},"encoding":{"x":{"field":"x","type":"quantitative","scale":{"domain":[10,14],"nice":false,"zero":false},"axis":{"values":[10,10.5,11,11.5,12,12.5,13,13.5,14],"labels":false,"title":null}},"y":{"field":"y","type":"quantitative","scale":{"type":"log","domain":[0.0001,1],"nice":false},"axis":{"title":"PDF","values":[1,0.1,0.01,0.001,0.0001],"labelExpr":"datum.value>0.5?'10⁰':datum.value>0.05?'10⁻¹':datum.value>0.005?'10⁻²':datum.value>0.0005?'10⁻³':'10⁻⁴'"}}}},{"mark":{"type":"point","opacity":0},"encoding":{"x":{"field":"x","type":"quantitative","scale":{"domain":[10,14],"nice":false,"zero":false},"axis":{"values":[10,10.5,11,11.5,12,12.5,13,13.5,14],"labels":false,"title":null}},"y":{"field":"y","type":"quantitative","scale":{"type":"log","domain":[0.0001,1],"nice":false},"axis":{"orient":"right","labels":false,"ticks":false,"domain":false,"title":null,"minExtent":17,"maxExtent":17}}}}]}
],"spacing":18,"bounds":"flush"},
{"vconcat": [
{"width":127,"height":30,"data":{"name":"b"},"transform":[{"filter":"datum.r==1"}],"mark":{"type":"point","clip":true},"encoding":{"x":{"field":"x","type":"quantitative","scale":{"domain":[10,14],"nice":false,"zero":false},"axis":{"values":[10,10.5,11,11.5,12,12.5,13,13.5,14],"format":".1f","title":null}},"y":{"field":"y","type":"quantitative","scale":{"type":"log","domain":[0.0001,1],"nice":false},"axis":{"title":"PDF","values":[1,0.1,0.01,0.001,0.0001],"labelExpr":"datum.value>0.5?'10⁰':datum.value>0.05?'10⁻¹':datum.value>0.005?'10⁻²':datum.value>0.0005?'10⁻³':'10⁻⁴'"}}}},
{"width":127,"height":30,"data":{"name":"b"},"transform":[{"filter":"datum.r==2"}],"mark":{"type":"point","clip":true},"encoding":{"x":{"field":"x","type":"quantitative","scale":{"domain":[10,14],"nice":false,"zero":false},"axis":{"values":[10,10.5,11,11.5,12,12.5,13,13.5,14],"format":".1f","title":null}},"y":{"field":"y","type":"quantitative","scale":{"type":"log","domain":[0.0001,1],"nice":false},"axis":{"title":"PDF","values":[1,0.1,0.01,0.001,0.0001],"labelExpr":"datum.value>0.5?'10⁰':datum.value>0.05?'10⁻¹':datum.value>0.005?'10⁻²':datum.value>0.0005?'10⁻³':'10⁻⁴'"}}}},
{"width":127,"height":30,"data":{"name":"b"},"transform":[{"filter":"datum.r==3"}],"mark":{"type":"point","clip":true},"encoding":{"x":{"field":"x","type":"quantitative","scale":{"domain":[10,14],"nice":false,"zero":false},"axis":{"values":[10,10.5,11,11.5,12,12.5,13,13.5,14],"format":".1f","title":null}},"y":{"field":"y","type":"quantitative","scale":{"type":"log","domain":[0.0001,1],"nice":false},"axis":{"title":"PDF","values":[1,0.1,0.01,0.001,0.0001],"labelExpr":"datum.value>0.5?'10⁰':datum.value>0.05?'10⁻¹':datum.value>0.005?'10⁻²':datum.value>0.0005?'10⁻³':'10⁻⁴'"}}}},
{"width":127,"height":30,"data":{"name":"b"},"transform":[{"filter":"datum.r==4"}],"mark":{"type":"point","clip":true},"encoding":{"x":{"field":"x","type":"quantitative","scale":{"domain":[10,14],"nice":false,"zero":false},"axis":{"values":[10,10.5,11,11.5,12,12.5,13,13.5,14],"format":".1f","title":null}},"y":{"field":"y","type":"quantitative","scale":{"type":"log","domain":[0.0001,1],"nice":false},"axis":{"title":"PDF","values":[1,0.1,0.01,0.001,0.0001],"labelExpr":"datum.value>0.5?'10⁰':datum.value>0.05?'10⁻¹':datum.value>0.005?'10⁻²':datum.value>0.0005?'10⁻³':'10⁻⁴'"}}}},
{"width":127,"height":30,"data":{"name":"b"},"transform":[{"filter":"datum.r==5"}],"mark":{"type":"point","clip":true},"encoding":{"x":{"field":"x","type":"quantitative","scale":{"domain":[10,14],"nice":false,"zero":false},"axis":{"values":[10,10.5,11,11.5,12,12.5,13,13.5,14],"format":".1f","title":null}},"y":{"field":"y","type":"quantitative","scale":{"type":"log","domain":[0.0001,1],"nice":false},"axis":{"title":"PDF","values":[1,0.1,0.01,0.001,0.0001],"labelExpr":"datum.value>0.5?'10⁰':datum.value>0.05?'10⁻¹':datum.value>0.005?'10⁻²':datum.value>0.0005?'10⁻³':'10⁻⁴'"}}}},
{"width":127,"height":30,"data":{"name":"b"},"transform":[{"filter":"datum.r==6"}],"mark":{"type":"point","clip":true},"encoding":{"x":{"field":"x","type":"quantitative","scale":{"domain":[10,14],"nice":false,"zero":false},"axis":{"values":[10,10.5,11,11.5,12,12.5,13,13.5,14],"format":".1f","title":null}},"y":{"field":"y","type":"quantitative","scale":{"type":"log","domain":[0.0001,1],"nice":false},"axis":{"title":"PDF","values":[1,0.1,0.01,0.001,0.0001],"labelExpr":"datum.value>0.5?'10⁰':datum.value>0.05?'10⁻¹':datum.value>0.005?'10⁻²':datum.value>0.0005?'10⁻³':'10⁻⁴'"}}}},
{"width":127,"height":30,"data":{"name":"b"},"transform":[{"filter":"datum.r==7"}],"mark":{"type":"point","clip":true},"encoding":{"x":{"field":"x","type":"quantitative","scale":{"domain":[10,14],"nice":false,"zero":false},"axis":{"values":[10,10.5,11,11.5,12,12.5,13,13.5,14],"format":".1f","title":null}},"y":{"field":"y","type":"quantitative","scale":{"type":"log","domain":[0.0001,1],"nice":false},"axis":{"title":"PDF","values":[1,0.1,0.01,0.001,0.0001],"labelExpr":"datum.value>0.5?'10⁰':datum.value>0.05?'10⁻¹':datum.value>0.005?'10⁻²':datum.value>0.0005?'10⁻³':'10⁻⁴'"}}}},
{"width":127,"height":14,"data":{"name":"b"},"transform":[{"filter":"datum.r==8"}],"mark":{"type":"point","clip":true},"encoding":{"x":{"field":"x","type":"quantitative","scale":{"domain":[10,14],"nice":false,"zero":false},"axis":{"values":[10,10.5,11,11.5,12,12.5,13,13.5,14],"labels":false,"title":null}},"y":{"field":"y","type":"quantitative","scale":{"type":"log","domain":[0.0001,1],"nice":false},"axis":{"title":"PDF","values":[1,0.1,0.01,0.001,0.0001],"labelExpr":"datum.value>0.5?'10⁰':datum.value>0.05?'10⁻¹':datum.value>0.005?'10⁻²':datum.value>0.0005?'10⁻³':'10⁻⁴'"}}}}
],"spacing":18,"bounds":"flush"},
{"vconcat": [
{"width":127,"height":30,"data":{"name":"c"},"transform":[{"filter":"datum.r==1"}],"mark":{"type":"point","clip":true},"encoding":{"x":{"field":"x","type":"quantitative","scale":{"domain":[300,700],"nice":false,"zero":false},"axis":{"values":[300,350,400,450,500,550,600,650,700],"format":".1f","title":null}},"y":{"field":"y","type":"quantitative","scale":{"type":"log","domain":[0.0001,1],"nice":false},"axis":{"title":"PDF","values":[1,0.1,0.01,0.001,0.0001],"labelExpr":"datum.value>0.5?'10⁰':datum.value>0.05?'10⁻¹':datum.value>0.005?'10⁻²':datum.value>0.0005?'10⁻³':'10⁻⁴'"}}}},
{"width":127,"height":30,"data":{"name":"c"},"transform":[{"filter":"datum.r==2"}],"mark":{"type":"point","clip":true},"encoding":{"x":{"field":"x","type":"quantitative","scale":{"domain":[300,700],"nice":false,"zero":false},"axis":{"values":[300,350,400,450,500,550,600,650,700],"format":".1f","title":null}},"y":{"field":"y","type":"quantitative","scale":{"type":"log","domain":[0.0001,1],"nice":false},"axis":{"title":"PDF","values":[1,0.1,0.01,0.001,0.0001],"labelExpr":"datum.value>0.5?'10⁰':datum.value>0.05?'10⁻¹':datum.value>0.005?'10⁻²':datum.value>0.0005?'10⁻³':'10⁻⁴'"}}}},
{"width":127,"height":30,"data":{"name":"c"},"transform":[{"filter":"datum.r==3"}],"mark":{"type":"point","clip":true},"encoding":{"x":{"field":"x","type":"quantitative","scale":{"domain":[300,700],"nice":false,"zero":false},"axis":{"values":[300,350,400,450,500,550,600,650,700],"format":".1f","title":null}},"y":{"field":"y","type":"quantitative","scale":{"type":"log","domain":[0.0001,1],"nice":false},"axis":{"title":"PDF","values":[1,0.1,0.01,0.001,0.0001],"labelExpr":"datum.value>0.5?'10⁰':datum.value>0.05?'10⁻¹':datum.value>0.005?'10⁻²':datum.value>0.0005?'10⁻³':'10⁻⁴'"}}}},
{"width":127,"height":30,"data":{"name":"c"},"transform":[{"filter":"datum.r==4"}],"mark":{"type":"point","clip":true},"encoding":{"x":{"field":"x","type":"quantitative","scale":{"domain":[300,700],"nice":false,"zero":false},"axis":{"values":[300,350,400,450,500,550,600,650,700],"format":".1f","title":null}},"y":{"field":"y","type":"quantitative","scale":{"type":"log","domain":[0.0001,1],"nice":false},"axis":{"title":"PDF","values":[1,0.1,0.01,0.001,0.0001],"labelExpr":"datum.value>0.5?'10⁰':datum.value>0.05?'10⁻¹':datum.value>0.005?'10⁻²':datum.value>0.0005?'10⁻³':'10⁻⁴'"}}}},
{"width":127,"height":30,"data":{"name":"c"},"transform":[{"filter":"datum.r==5"}],"mark":{"type":"point","clip":true},"encoding":{"x":{"field":"x","type":"quantitative","scale":{"domain":[300,700],"nice":false,"zero":false},"axis":{"values":[300,350,400,450,500,550,600,650,700],"format":".1f","title":null}},"y":{"field":"y","type":"quantitative","scale":{"type":"log","domain":[0.0001,1],"nice":false},"axis":{"title":"PDF","values":[1,0.1,0.01,0.001,0.0001],"labelExpr":"datum.value>0.5?'10⁰':datum.value>0.05?'10⁻¹':datum.value>0.005?'10⁻²':datum.value>0.0005?'10⁻³':'10⁻⁴'"}}}},
{"width":127,"height":30,"data":{"name":"c"},"transform":[{"filter":"datum.r==6"}],"mark":{"type":"point","clip":true},"encoding":{"x":{"field":"x","type":"quantitative","scale":{"domain":[300,700],"nice":false,"zero":false},"axis":{"values":[300,350,400,450,500,550,600,650,700],"format":".1f","title":null}},"y":{"field":"y","type":"quantitative","scale":{"type":"log","domain":[0.0001,1],"nice":false},"axis":{"title":"PDF","values":[1,0.1,0.01,0.001,0.0001],"labelExpr":"datum.value>0.5?'10⁰':datum.value>0.05?'10⁻¹':datum.value>0.005?'10⁻²':datum.value>0.0005?'10⁻³':'10⁻⁴'"}}}},
{"width":127,"height":30,"data":{"name":"c"},"transform":[{"filter":"datum.r==7"}],"mark":{"type":"point","clip":true},"encoding":{"x":{"field":"x","type":"quantitative","scale":{"domain":[300,700],"nice":false,"zero":false},"axis":{"values":[300,350,400,450,500,550,600,650,700],"format":".1f","title":null}},"y":{"field":"y","type":"quantitative","scale":{"type":"log","domain":[0.0001,1],"nice":false},"axis":{"title":"PDF","values":[1,0.1,0.01,0.001,0.0001],"labelExpr":"datum.value>0.5?'10⁰':datum.value>0.05?'10⁻¹':datum.value>0.005?'10⁻²':datum.value>0.0005?'10⁻³':'10⁻⁴'"}}}},
{"width":127,"height":14,"data":{"name":"c"},"transform":[{"filter":"datum.r==8"}],"mark":{"type":"point","clip":true},"encoding":{"x":{"field":"x","type":"quantitative","scale":{"domain":[300,700],"nice":false,"zero":false},"axis":{"values":[300,350,400,450,500,550,600,650,700],"labels":false,"title":null}},"y":{"field":"y","type":"quantitative","scale":{"type":"log","domain":[0.0001,1],"nice":false},"axis":{"title":"PDF","values":[1,0.1,0.01,0.001,0.0001],"labelExpr":"datum.value>0.5?'10⁰':datum.value>0.05?'10⁻¹':datum.value>0.005?'10⁻²':datum.value>0.0005?'10⁻³':'10⁻⁴'"}}}}
],"spacing":18,"bounds":"flush"}
],"spacing":11},
{"width":12,"height":354,"view":{"fill":"#ababab","stroke":null},"data":{"values":[{}]},"mark":{"type":"point","opacity":0},"encoding":{}}
],"spacing":0},
{"width":520,"height":20,"view":{"fill":"#ababab","stroke":null},"data":{"values":[{}]},"mark":{"type":"point","opacity":0},"encoding":{}}
]
}
